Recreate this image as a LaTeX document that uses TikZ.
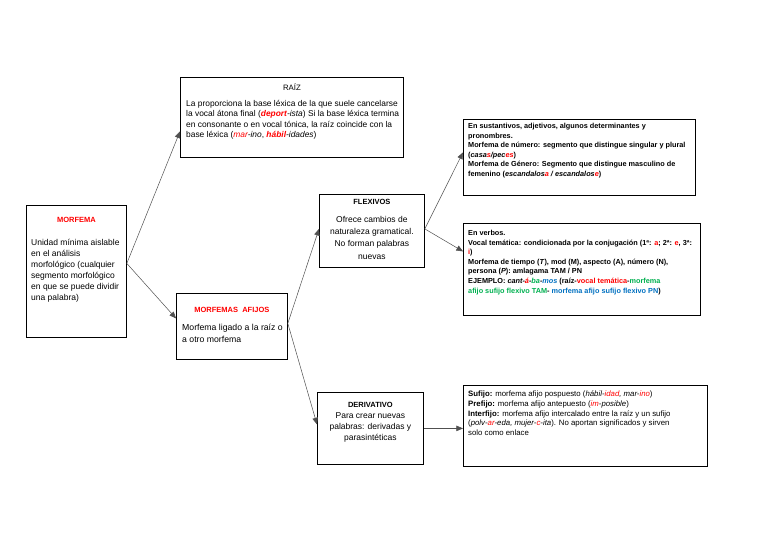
\documentclass[tikz,border=0pt]{standalone}
\usepackage{fontspec}
\setmainfont{Liberation Sans}
\usepackage{tikz}
\usetikzlibrary{calc}
\usetikzlibrary{arrows}
\usetikzlibrary{positioning}
\definecolor{rojo}{RGB}{255,0,0}
\definecolor{verde}{RGB}{0,176,80}
\definecolor{azul}{RGB}{0,112,192}
\definecolor{gris}{RGB}{80,80,80}

\begin{document}
\begin{tikzpicture}[x=1pt,y=-1pt]
  \tikzset{caja/.style={draw=black, line width=0.8pt, anchor=north west, inner sep=0pt}};
  \tikzset{titulo/.style={anchor=north, inner sep=0pt, font=\bfseries\fontsize{7.5}{9}\selectfont}};
  \tikzset{cuerpo/.style={anchor=north west, inner sep=0pt, align=left, font=\fontsize{8.4}{11}\selectfont}};
  \tikzset{nota/.style={anchor=north west, inner sep=0pt, align=left, font=\fontsize{7.3}{9.6}\selectfont}};
  \tikzset{flecha/.style={->, >=triangle 45, draw=gris, line width=0.5pt}};
  \useasboundingbox (0,0) rectangle (768,543);

  \node[caja, minimum width=100pt, minimum height=132pt] (morfema) at (26,205) {};
  \node[caja, minimum width=223pt, minimum height=80pt] (raiz) at (180,77) {};
  \node[caja, minimum width=111pt, minimum height=66pt] (afijos) at (176,293) {};
  \node[caja, minimum width=105pt, minimum height=73pt] (flexivos) at (319,194) {};
  \node[caja, minimum width=106pt, minimum height=72pt] (derivativo) at (317,392) {};
  \node[caja, minimum width=232pt, minimum height=76pt] (nominal) at (463,119) {};
  \node[caja, minimum width=237pt, minimum height=92pt] (verbal) at (463,223) {};
  \node[caja, minimum width=244pt, minimum height=81pt] (derivados) at (463,385) {};

  \node[titulo, below=12pt] (t-morfema) at (morfema.north) {\textcolor{rojo}{MORFEMA}};
  \node[cuerpo, font=\fontsize{8.5}{11}\selectfont] (c-morfema) at ($(morfema.north west)+(5,34)$)
    {Unidad mínima aislable\\ en el análisis\\ morfológico (cualquier\\ segmento morfológico\\ en que se puede dividir\\ una palabra)};

  \node[titulo, below=7pt, font=\fontsize{7.8}{9}\selectfont] (t-raiz) at (raiz.north) {RAÍZ};
  \node[cuerpo, font=\fontsize{8.4}{10.5}\selectfont] (c-raiz) at ($(raiz.north west)+(6,23)$)
    {La proporciona la base léxica de la que suele cancelarse\\
     la vocal átona final (\textit{\textbf{\textcolor{rojo}{deport}}-ista}) Si la base léxica termina\\
     en consonante o en vocal tónica, la raíz coincide con la\\
     base léxica (\textit{\textcolor{rojo}{mar}-ino}, \textit{\textbf{\textcolor{rojo}{hábil}}-idades})};

  \node[titulo, below=14pt] (t-afijos) at (afijos.north) {\textcolor{rojo}{MORFEMAS\ \ AFIJOS}};
  \node[cuerpo, font=\fontsize{8.7}{12}\selectfont] (c-afijos) at ($(afijos.north west)+(6,31)$)
    {Morfema ligado a la raíz o\\ a otro morfema};

  \node[titulo, below=5pt] (t-flexivos) at (flexivos.north) {FLEXIVOS};
  \node[cuerpo, anchor=north, align=center, font=\fontsize{8.5}{12.3}\selectfont] (c-flexivos) at ($(flexivos.north)+(0,22)$)
    {Ofrece cambios de\\ naturaleza gramatical.\\ No forman palabras\\ nuevas};

  \node[titulo, below=10pt] (t-derivativo) at (derivativo.north) {DERIVATIVO};
  \node[cuerpo, anchor=north, align=center, font=\fontsize{8.5}{11}\selectfont] (c-derivativo) at ($(derivativo.north)+(0,20)$)
    {Para crear nuevas\\ palabras: derivadas y\\ parasintéticas};

  \node[nota, font=\bfseries\fontsize{7.3}{9.6}\selectfont] (c-nominal) at ($(nominal.north west)+(5,4)$)
    {En sustantivos, adjetivos, algunos determinantes y\\
     pronombres.\\
     Morfema de número: segmento que distingue singular y plural\\
     (\textit{casa\textcolor{rojo}{s}/pec\textcolor{rojo}{es}})\\
     Morfema de Género: Segmento que distingue masculino de\\
     femenino (\textit{escandalos\textcolor{rojo}{a} / escandalos\textcolor{rojo}{e}})};

  \node[nota, font=\bfseries\fontsize{7.3}{9.6}\selectfont] (c-verbal) at ($(verbal.north west)+(5,7)$)
    {En verbos.\\
     Vocal temática: condicionada por la conjugación (1ª: \textcolor{rojo}{a}; 2ª: \textcolor{rojo}{e}, 3ª:\\
     \textcolor{rojo}{i})\\
     Morfema de tiempo (\textit{T}), mod (M), aspecto (A), número (N),\\
     persona (\textit{P}): amlagama TAM / PN\\
     EJEMPLO: \textit{cant-\textcolor{rojo}{á}-\textcolor{verde}{ba}-\textcolor{azul}{mos}} (raíz-\textcolor{rojo}{vocal temática}-\textcolor{verde}{morfema}\\
     \textcolor{verde}{afijo sufijo flexivo TAM}- \textcolor{azul}{morfema afijo sufijo flexivo PN})};

  \node[nota, font=\fontsize{7.8}{9.6}\selectfont] (c-derivados) at ($(derivados.north west)+(5,6)$)
    {\textbf{Sufijo:} morfema afijo pospuesto (\textit{hábil-\textcolor{rojo}{idad}, mar-\textcolor{rojo}{ino}})\\
     \textbf{Prefijo:} morfema afijo antepuesto (\textit{\textcolor{rojo}{im}-posible})\\
     \textbf{Interfijo:} morfema afijo intercalado entre la raíz y un sufijo\\
     (\textit{polv-\textcolor{rojo}{ar}-eda, mujer-\textcolor{rojo}{c}-ita}). No aportan significados y sirven\\
     solo como enlace};

  \coordinate (M) at ($(morfema.east)+(0,-8)$);
  \coordinate (A) at ($(afijos.east)+(0,-3)$);
  \coordinate (F) at ($(flexivos.east)+(0,-2)$);

  \draw [flecha] (M) -- ($(raiz.west)+(0,14)$);
  \draw [flecha] (M) -- ($(afijos.west)+(0,-8)$);
  \draw [flecha] (A) -- ($(flexivos.west)+(0,-2)$);
  \draw [flecha] (A) -- ($(derivativo.west)+(0,-4)$);
  \draw [flecha] (F) -- ($(nominal.west)+(0,-5)$);
  \draw [flecha] (F) -- ($(verbal.west)+(0,-18)$);
  \draw [flecha] (derivativo.east) -- (derivativo.east -| derivados.west);

\end{tikzpicture}
\end{document}
